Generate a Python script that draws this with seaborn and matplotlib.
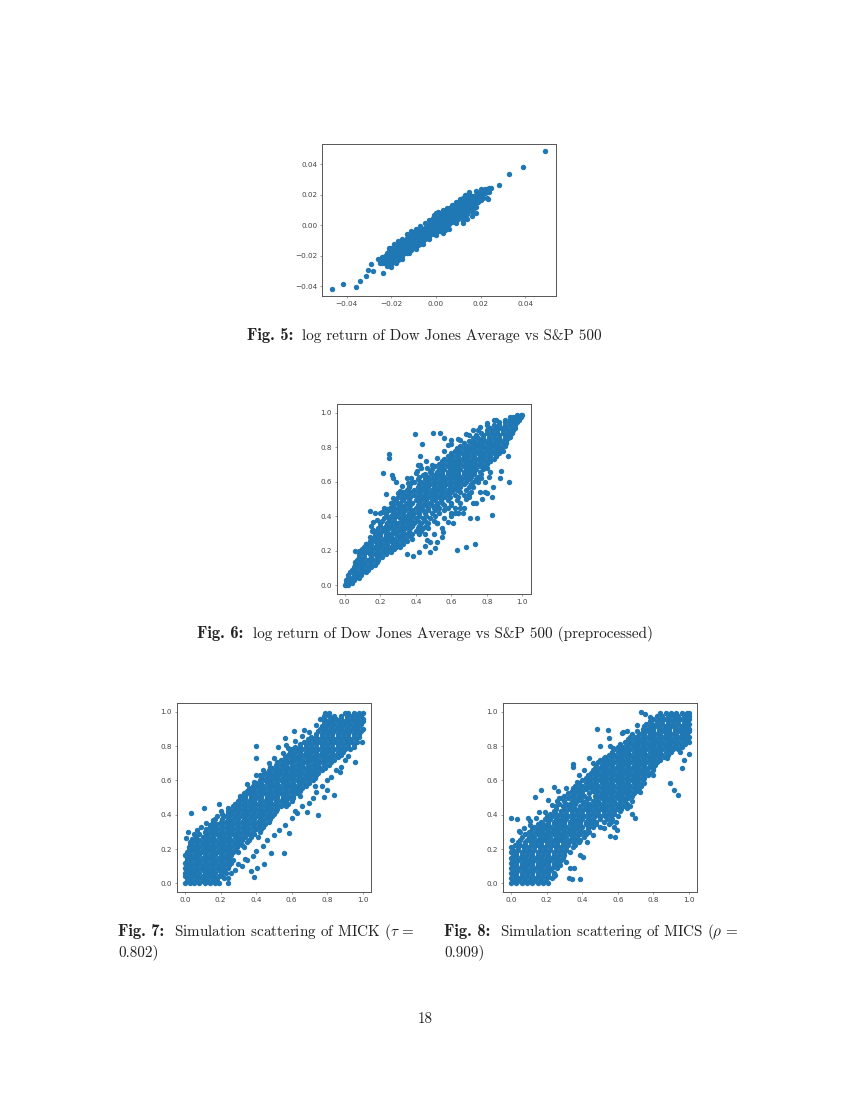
import matplotlib
matplotlib.use("Agg")
import matplotlib.pyplot as plt
import pandas as pd
import seaborn as sns

# ---------- Fig. 5 data, in thousandths of a log return ----------
f5_col_x = [-26, -24, -22, -20, -18, -16, -14, -12, -10, -8, -6, -4, -2, 0, 2, 4, 6, 8, 10, 12, 14, 16, 18, 20, 22, 24]
f5_col_y = [
    [-22], [-21, -23, -25], [-18, -20.5, -23, -25.5], [-15, -17.5, -20, -22.5, -25.5],
    [-13.5, -16, -18.5, -21, -23], [-12, -14.5, -17, -19.5], [-10.5, -13, -15.5, -18],
    [-7, -9.5, -12, -14.5, -17], [-4.5, -7, -9.5, -12, -14.5], [-3.5, -6, -8.5, -11, -13],
    [-2.5, -5, -7.5, -10], [-1.5, -4, -6.5, -8.5], [1, -1.5, -4, -6],
    [8, 5, 2.5, 0, -2.5, -4.5], [8, 5.5, 3, 0.5, -2, -4], [9, 6.5, 4, 1.5, -1, -3],
    [11, 8.5, 6, 3.5, 1], [13, 10.5, 8, 5.5, 3], [14, 11.5, 9, 6.5, 4],
    [18, 15.5, 13, 10.5, 8, 5], [20, 17.5, 15, 12.5, 10, 7.5], [19.5, 17, 14.5, 12, 9],
    [20, 17, 14.5], [22, 19, 16.5], [23.5, 21], [24.5, 22],
]
f5_col2_x = [-25, -23, -21, -19, -17, -15, -13, -11, -9, -7, -5, -3, -1, 1, 3, 5, 7, 9, 11, 13, 15, 17, 19, 21, 23]
f5_col2_y = [
    [-22, -24.5], [-20, -22.5, -25], [-17, -19.5, -22, -24.5, -26], [-14.5, -17, -19.5, -22, -24],
    [-13, -15.5, -18, -20.5, -22.5], [-11, -13.5, -16, -18.5, -20], [-8.5, -11, -13.5, -16, -18],
    [-6, -8.5, -11, -13.5, -16], [-4, -6.5, -9, -11.5, -14], [-3, -5.5, -8, -10.5, -12],
    [-2, -4.5, -7, -9], [0, -2.5, -5, -7.5], [3, 0.5, -2, -4.5, -6], [9, 6.5, 4, 1.5, -1, -3.5],
    [7, 4.5, 2, -0.5, -3], [10, 7.5, 5, 2.5, 0, -2], [12, 9.5, 7, 4.5, 2], [13.5, 11, 8.5, 6, 3.5],
    [16, 13.5, 11, 8.5, 6], [19, 16.5, 14, 11.5, 9, 6.5], [20.5, 18, 15.5, 13, 10], [19, 16.5, 14, 11],
    [20.5, 18, 15.5], [23, 20.5, 18], [24, 21.5, 18],
]
f5_out_x = [-46.4, -41.8, -35.8, -33.9, -31.5, -30.3, -29.3, -28.4, -23.9, 49, 38.8, 32.7, 28.4, 23.4, 24.5,
            -1.5, -1, -3, -5, -7, -9, -11, -13, -15, -17, -19, -21, 3, 5, 7, 9, 11, 13, 15, 18, 20,
            -22, -20, -18, -15, -12, -9, -6, -3, 0, 3, 6, 9, 12, 14, 16, 18, 12, 18]
f5_out_y = [-42, -38.3, -40.2, -36.5, -33.4, -29.5, -25.6, -30.2, -31.5, 48.5, 38.3, 33.7, 26.2, 17.5, 24.7,
            5, 7, 3.5, 1.5, -0.5, -2.5, -4, -6, -9, -10.5, -12, -15, 10, 11.5, 13, 15, 17.5, 20, 22, 22.5, 24,
            -27, -27.5, -25, -22, -18.5, -15.5, -12, -9, -6.5, -5, -2.5, 1.5, 2.5, 4, 6, 8, 1.7, 12]

# ---------- rows shared by the three unit-square figures, in hundredths ----------
rows_a = [0, 3, 6, 9, 12, 15, 18, 21, 24, 27, 30, 33, 36, 39, 42, 45, 48, 51, 54, 57, 60, 63, 66, 69, 72, 75, 78, 81,
          84, 87, 90, 93, 96, 99]
rows_b = [1.5, 4.5, 7.5, 10.5, 13.5, 16.5, 19.5, 22.5, 25.5, 28.5, 31.5, 34.5, 37.5, 40.5, 43.5, 46.5, 49.5, 52.5,
          55.5, 58.5, 61.5, 64.5, 67.5, 70.5, 73.5, 76.5, 79.5, 82.5, 85.5, 88.5, 91.5, 94.5, 97.5]

# ---------- Fig. 6 data, in hundredths ----------
f6_row_x = [
    [0, 1, 2], [1, 3, 5], [2, 5, 7, 9], [4, 6, 9, 11, 13], [6, 8, 11, 14, 17], [7, 10, 13, 16, 19],
    [8, 11, 14, 17, 20, 23], [10, 13, 16, 19, 22, 25, 28], [12, 15, 18, 21, 24, 27, 30, 33],
    [16, 19, 22, 25, 28, 31, 34, 38], [17, 20, 23, 26, 29, 32, 35, 38, 42, 45],
    [19, 22, 25, 28, 31, 34, 37, 41, 44, 47], [20, 24, 27, 30, 33, 36, 39, 43, 47, 52],
    [22, 25, 28, 31, 34, 37, 40, 44, 48, 56], [23, 27, 30, 33, 36, 39, 42, 45, 49, 53, 60, 64],
    [26, 30, 33, 36, 40, 43, 47, 50, 53, 58, 62, 67], [27, 31, 35, 38, 42, 45, 48, 52, 55, 60, 65, 72],
    [30, 34, 37, 41, 44, 47, 50, 53, 56, 59, 64, 70], [33, 37, 41, 45, 48, 51, 54, 57, 60, 65, 71, 76],
    [36, 41, 44, 47, 50, 53, 56, 59, 62, 65, 70], [39, 43, 47, 50, 53, 56, 59, 62, 65, 68, 72, 79],
    [42, 47, 50, 53, 56, 59, 62, 65, 68, 71, 75, 81], [48, 52, 55, 58, 61, 64, 67, 70, 73, 76, 82],
    [51, 55, 58, 61, 64, 67, 70, 73, 76, 79], [55, 58, 61, 64, 67, 70, 73, 76, 79, 82],
    [58, 61, 64, 67, 70, 73, 76, 79, 82, 85], [62, 65, 68, 71, 74, 77, 80, 83, 86, 89],
    [65, 69, 72, 75, 78, 81, 84, 87, 90], [70, 73, 76, 79, 82, 85, 88, 91],
    [74, 78, 81, 84, 87, 90, 93], [80, 83, 86, 89, 92, 95], [84, 87, 90, 93, 96],
    [90, 93, 96, 98], [97, 99, 100],
]
f6_row2_x = [
    [1, 2, 4], [2, 4, 6, 8], [3, 6, 8, 10, 12], [5, 7, 10, 13, 15], [6, 9, 12, 15, 18], [8, 11, 15, 18, 21],
    [9, 12, 15, 18, 21, 24, 26], [11, 14, 17, 20, 23, 26, 29, 31], [14, 17, 20, 23, 26, 29, 32, 35],
    [17, 20, 23, 26, 30, 33, 36], [18, 21, 24, 27, 30, 33, 36, 40, 43], [20, 23, 26, 29, 32, 35, 38, 42, 46],
    [21, 25, 28, 32, 35, 38, 41, 45, 50], [23, 26, 29, 32, 35, 38, 42, 46, 51],
    [25, 28, 31, 34, 38, 41, 44, 47, 51, 56], [27, 31, 34, 37, 41, 44, 46, 49, 52, 56, 60],
    [29, 33, 36, 40, 43, 46, 49, 51, 54, 58, 63], [32, 35, 39, 43, 46, 49, 52, 55, 58, 62, 67],
    [35, 39, 43, 46, 49, 52, 55, 58, 61, 63, 68], [37, 42, 45, 48, 51, 54, 57, 60, 63, 67, 71],
    [41, 45, 48, 51, 54, 57, 60, 63, 66, 70, 74], [45, 49, 52, 55, 58, 61, 64, 67, 70, 73, 77],
    [49, 53, 56, 59, 62, 65, 68, 71, 74, 78], [53, 56, 59, 62, 65, 68, 71, 74, 77, 80],
    [56, 60, 63, 66, 69, 72, 75, 78, 81, 84], [60, 63, 66, 69, 72, 75, 78, 81, 84, 87],
    [63, 67, 70, 73, 76, 79, 82, 85, 88], [67, 71, 74, 77, 80, 83, 86, 89, 91], [72, 75, 78, 81, 84, 87, 90, 92],
    [77, 80, 83, 86, 89, 92, 94], [82, 85, 88, 91, 94, 96], [87, 90, 93, 95, 97], [93, 95, 97, 99],
]
f6_out_x = [39.8, 49.9, 53.5, 55.9, 43.7, 25, 25, 42.4, 21.8, 26.5, 27, 23.3, 14.4, 16.1, 14.8, 15.6, 63, 68.3, 73.4,
            82.7, 92.7, 92.1, 87.8, 87.4, 82.7, 80, 77.3, 48, 50.8, 38.6, 35.3, 42, 41.1, 42.4, 40.5, 37.3, 44.3,
            46.2, 49.5, 28.9, 32.1, 35.8, 30.2, 27.4, 25.5, 20.8, 17.1, 66.8, 70.5, 74.3, 64, 61.2, 55.5, 51.8,
            46.2, 73.9, 79, 83.7, 58.3, 59.7, 64.9, 6, 8,
            30, 32, 28, 26, 34, 31, 36, 38, 35, 50, 55, 58, 60, 62, 55, 48, 45, 52, 65, 68, 70, 72, 75, 77, 80, 82,
            85, 88, 90, 93, 95, 22, 24, 20, 18, 16, 14, 12, 10, 40, 43, 46, 49, 52, 56, 60, 64, 68, 72, 76, 80, 84,
            70, 75, 80, 85]
f6_out_y = [87.5, 88.2, 88.6, 85.7, 82.2, 75.9, 74, 74.9, 65.4, 63.9, 62.4, 53.1, 43.4, 36.9, 34.4, 31.5, 20.5, 22,
            24.1, 40.7, 59.7, 75.1, 66.2, 62, 51.4, 53.7, 50, 19.1, 21.4, 17.2, 18.1, 19.1, 70, 70, 66.2, 62.5, 63.9,
            67.8, 69.3, 59.7, 57.7, 59.1, 53.3, 50.4, 44.6, 42.7, 41.7, 41.7, 38.8, 38.8, 41.7, 35.9, 31.1, 25.3,
            26.3, 47.5, 54.2, 57.1, 81.3, 84.2, 84.2, 20, 20,
            47, 50, 45, 48, 52, 55, 57, 60, 62, 30, 33, 37, 40, 42, 28, 25, 23, 36, 45, 50, 53, 57, 60, 62, 68, 72,
            75, 78, 82, 86, 90, 45, 44, 42, 38, 32, 28, 24, 20, 65, 68, 72, 70, 74, 78, 82, 85, 88, 90, 92, 94, 96,
            87, 90, 93, 96]

# ---------- Fig. 7 data, in hundredths ----------
f7_row_x = [
    [0, 3, 5, 8, 11, 14, 17, 19], [1, 3, 6, 9, 12, 15, 18, 22, 24], [0, 2, 5, 8, 11, 14, 17, 20, 23],
    [0, 3, 6, 9, 12, 15, 18, 21, 24], [0, 2, 5, 8, 11, 14, 17, 20, 23, 26], [1, 4, 7, 10, 13, 16, 19, 22, 25],
    [1, 3, 6, 9, 12, 15, 18, 21, 24, 27, 30], [2, 5, 8, 11, 14, 17, 20, 23, 26, 29, 33],
    [4, 7, 10, 13, 16, 19, 22, 25, 28, 31, 35], [6, 10, 13, 16, 19, 22, 25, 28, 31, 34, 37, 41],
    [11, 14, 17, 20, 23, 26, 29, 32, 35, 38, 42], [14, 17, 20, 23, 26, 29, 32, 35, 38, 41, 44],
    [16, 20, 23, 26, 29, 32, 35, 38, 41, 44, 47], [18, 22, 25, 28, 31, 34, 37, 40, 43, 46, 49],
    [24, 27, 30, 33, 36, 39, 42, 45, 48, 51], [27, 30, 33, 36, 39, 42, 45, 48, 51, 54, 57],
    [30, 33, 36, 39, 42, 45, 48, 51, 54, 57, 60], [31, 34, 37, 40, 43, 46, 49, 52, 55, 58, 61, 65],
    [35, 38, 41, 44, 47, 50, 53, 56, 59, 62, 65], [38, 41, 44, 47, 50, 53, 56, 59, 62, 65, 68, 73],
    [42, 45, 48, 51, 54, 57, 60, 63, 66, 69, 72], [44, 47, 50, 53, 56, 59, 62, 65, 68, 71, 74],
    [47, 50, 53, 56, 59, 62, 65, 68, 71, 74, 77], [51, 54, 57, 60, 63, 66, 69, 72, 75, 78, 81],
    [54, 57, 60, 63, 66, 69, 72, 75, 78, 81, 84], [58, 61, 64, 67, 70, 73, 76, 79, 82, 85, 88],
    [60, 63, 66, 69, 72, 75, 78, 81, 84, 87, 90, 93], [65, 68, 71, 74, 77, 80, 83, 86, 89, 92, 95],
    [69, 72, 75, 78, 81, 84, 87, 90, 93, 96], [74, 77, 80, 83, 86, 89, 92, 95, 98],
    [76, 79, 82, 85, 88, 91, 94, 97, 100], [78, 81, 84, 87, 90, 93, 96, 99],
    [78, 82, 85, 88, 91, 94, 97, 100], [79, 81, 90, 92, 95, 98, 100],
]
f7_row2_x = [
    [1, 4, 7, 10, 13, 16, 18], [0, 2, 4, 7, 10, 13, 16, 19, 21], [1, 4, 7, 10, 13, 16, 19, 22],
    [1, 4, 7, 10, 13, 16, 19, 22, 25], [1, 3, 6, 9, 12, 15, 18, 21, 24, 27], [0, 2, 5, 8, 11, 14, 17, 20, 23, 26],
    [2, 4, 7, 10, 13, 16, 19, 22, 25, 28], [3, 6, 9, 12, 15, 18, 21, 24, 27, 30, 32],
    [5, 8, 11, 14, 17, 20, 23, 26, 29, 32, 36], [8, 12, 15, 18, 21, 24, 27, 30, 33, 36, 39],
    [12, 15, 18, 21, 24, 27, 30, 33, 36, 40, 43], [15, 18, 21, 24, 27, 30, 33, 36, 39, 42, 45],
    [17, 21, 24, 27, 30, 33, 36, 39, 42, 45, 48], [21, 24, 26, 29, 32, 35, 38, 41, 44, 47, 50],
    [25, 28, 31, 34, 37, 40, 43, 46, 49, 52], [28, 31, 34, 37, 40, 43, 46, 49, 52, 55, 58],
    [31, 34, 37, 40, 43, 46, 49, 52, 55, 58, 61], [33, 36, 39, 42, 45, 48, 51, 54, 57, 60, 63],
    [36, 39, 42, 45, 48, 51, 54, 57, 60, 63, 66], [40, 43, 46, 49, 52, 55, 58, 61, 64, 67, 70],
    [43, 46, 49, 52, 55, 58, 61, 64, 67, 70, 73], [45, 48, 51, 54, 57, 60, 63, 66, 69, 72, 75],
    [49, 52, 55, 58, 61, 64, 67, 70, 73, 76, 79], [52, 55, 58, 61, 64, 67, 70, 73, 76, 79, 82],
    [56, 59, 62, 65, 68, 71, 74, 77, 80, 83, 86], [59, 62, 65, 68, 71, 74, 77, 80, 83, 86, 89],
    [62, 65, 68, 71, 74, 77, 80, 83, 86, 89, 92, 95], [67, 70, 73, 76, 79, 82, 85, 88, 91, 94, 97],
    [71, 74, 77, 80, 83, 86, 89, 92, 95, 98], [75, 78, 81, 84, 87, 90, 93, 96, 99],
    [77, 80, 83, 86, 89, 92, 95, 98], [78, 80, 83, 86, 89, 92, 95, 98, 100], [78, 81, 84, 88, 91, 94, 97, 99],
]
f7_out_x = [3.4, 10.9, 1.5, 0.4, 19.2, 39.7, 39.7, 39.7, 57, 52.3, 61.1, 66.7, 56.4, 47.9, 34.8, 74.8, 68.6, 62, 78,
            58.3, 55.8, 48.5, 44.2, 40.4, 37.2, 39.1, 24, 32, 34.8, 87.4, 95.9, 99.6, 80, 83.6,
            5, 7, 9, 12, 14, 16, 4, 3, 92, 90, 88, 85, 82, 80, 77, 74, 72, 70, 66, 63, 60, 56, 53, 50, 46, 44, 40,
            38, 34, 30, 28, 26, 20, 24, 28, 32, 34, 36, 39, 42, 44, 47, 50, 55, 58, 62, 66, 70, 74, 76]
f7_out_y = [41.2, 43.9, 29.7, 26.2, 46.2, 80, 73.2, 63.1, 80.6, 79.2, 88.7, 89.1, 84.9, 68, 57.7, 39.8, 41.7, 42.1,
            50.5, 29.5, 17.7, 17.7, 11.3, 8.7, 7.4, 3.5, 0.4, 10.3, 13.6, 65, 70.9, 82.5, 54.4, 51.5,
            29, 31, 33, 35, 34, 37, 26, 24, 74, 72, 68, 66, 62, 60, 57, 53, 50, 47, 45, 41, 38, 34, 31, 28, 25, 22,
            19, 16, 14, 11, 8, 6, 42, 44, 46, 49, 52, 55, 59, 63, 66, 70, 73, 76, 79, 83, 86, 88, 92, 96]

# ---------- Fig. 8 data, in hundredths ----------
f8_row_x = [
    [0, 3, 6, 9, 12, 15, 18, 21], [0, 2, 5, 8, 11, 14, 17, 20, 23], [0, 3, 6, 9, 12, 15, 18, 21, 24],
    [0, 2, 5, 8, 11, 14, 17, 20, 23, 26], [0, 3, 6, 9, 12, 15, 18, 21, 24, 27],
    [0, 2, 5, 8, 11, 14, 17, 20, 23, 26, 29], [0, 3, 6, 9, 12, 15, 18, 21, 24, 27, 30, 33],
    [0, 4, 7, 10, 13, 16, 19, 22, 25, 28, 31, 35], [4, 8, 11, 14, 17, 20, 23, 26, 29, 32, 35, 38],
    [6, 10, 13, 16, 19, 22, 25, 28, 31, 34, 37, 41], [10, 14, 17, 20, 23, 26, 29, 32, 35, 38, 41, 44],
    [13, 16, 19, 22, 25, 28, 31, 34, 37, 40, 43, 46, 50, 58],
    [17, 21, 24, 27, 30, 33, 36, 39, 42, 45, 48, 52, 56, 59],
    [20, 23, 26, 29, 32, 35, 38, 41, 44, 47, 50, 53, 56, 60],
    [24, 28, 31, 34, 37, 40, 43, 46, 49, 52, 55, 58, 61],
    [25, 29, 32, 35, 39, 42, 45, 48, 51, 54, 57, 60, 63, 67],
    [26, 30, 34, 37, 40, 46, 49, 52, 55, 58, 61, 64, 68], [30, 34, 38, 41, 47, 50, 53, 56, 59, 62, 65, 68],
    [34, 37, 40, 46, 49, 52, 55, 58, 61, 64, 67, 70], [36, 40, 43, 46, 49, 52, 55, 58, 61, 64, 67, 70, 73],
    [40, 44, 47, 50, 53, 56, 59, 62, 65, 68, 71, 74], [43, 47, 50, 53, 56, 59, 62, 65, 68, 71, 74, 77],
    [46, 49, 52, 55, 58, 61, 64, 67, 70, 73, 76, 80], [48, 51, 54, 57, 60, 63, 66, 69, 72, 75, 78, 81],
    [50, 54, 57, 60, 63, 66, 69, 72, 75, 78, 81, 84], [55, 58, 61, 64, 67, 70, 73, 76, 79, 82, 85, 88],
    [58, 61, 64, 67, 70, 73, 76, 79, 82, 85, 88, 91, 94], [61, 65, 68, 71, 74, 77, 80, 83, 86, 89, 92, 95, 98],
    [66, 69, 72, 75, 78, 81, 84, 87, 90, 93, 96, 99], [68, 72, 75, 78, 81, 84, 87, 90, 93, 96, 99],
    [74, 77, 80, 83, 86, 89, 92, 95, 98, 100], [76, 79, 82, 85, 88, 91, 94, 97, 100],
    [80, 83, 86, 89, 92, 95, 98, 100], [84, 87, 90, 93, 96, 99, 100],
]
f8_row2_x = [
    [1, 4, 7, 10, 13, 16, 19], [1, 3, 6, 9, 12, 15, 18, 21, 24], [1, 4, 7, 10, 13, 16, 19, 22],
    [1, 3, 6, 9, 12, 15, 18, 21, 24, 27], [1, 4, 7, 10, 13, 16, 19, 22, 25, 28],
    [1, 3, 6, 9, 12, 15, 18, 21, 24, 27, 30], [1, 4, 7, 10, 13, 16, 19, 22, 25, 28, 31],
    [2, 5, 8, 11, 14, 17, 20, 23, 26, 29, 32, 36], [5, 9, 12, 15, 18, 21, 24, 27, 30, 33, 36, 39],
    [8, 12, 15, 18, 21, 24, 27, 30, 33, 36, 39, 42], [12, 15, 18, 21, 24, 27, 30, 33, 36, 39, 43],
    [15, 18, 21, 24, 27, 30, 33, 36, 39, 42, 45, 48, 55], [19, 22, 25, 28, 31, 34, 37, 40, 43, 46, 50, 54, 57],
    [22, 25, 28, 31, 34, 37, 40, 43, 46, 49, 52, 55, 58], [25, 30, 33, 36, 38, 41, 44, 47, 50, 53, 56, 59, 62],
    [27, 31, 33, 36, 41, 44, 47, 50, 53, 56, 59, 62, 65], [28, 32, 36, 39, 43, 48, 51, 54, 57, 60, 63, 66],
    [32, 36, 39, 44, 48, 51, 54, 57, 60, 63, 66, 69], [35, 38, 42, 45, 48, 51, 54, 57, 60, 63, 66, 69, 72],
    [38, 42, 45, 48, 51, 54, 57, 60, 63, 66, 69, 72, 75], [42, 45, 48, 51, 54, 57, 60, 63, 66, 69, 72, 75],
    [45, 48, 51, 54, 57, 60, 63, 66, 69, 72, 75, 78], [47, 50, 53, 56, 59, 62, 65, 68, 71, 74, 77, 80],
    [49, 52, 55, 58, 61, 64, 67, 70, 73, 76, 79, 82], [53, 56, 59, 62, 65, 68, 71, 74, 77, 80, 83, 86],
    [57, 60, 63, 66, 69, 72, 75, 78, 81, 84, 87, 90], [60, 63, 66, 69, 72, 75, 78, 81, 84, 87, 90, 93, 96],
    [64, 67, 70, 73, 76, 79, 82, 85, 88, 91, 94, 97, 100], [67, 70, 74, 77, 80, 83, 86, 89, 92, 95, 98, 100],
    [71, 74, 77, 80, 83, 86, 89, 92, 95, 98, 100], [75, 78, 81, 84, 87, 90, 93, 96, 99],
    [78, 82, 85, 88, 91, 94, 97, 99], [82, 85, 88, 91, 94, 97, 100],
]
f8_out_x = [0, 3.4, 9.6, 10.5, 0.6, 4.3, 13.7, 17.1, 20.9, 24.1, 26.5, 15.8, 35, 35, 38.3, 43.6, 48.1, 54.3, 55.1, 50,
            55.6, 32.7, 34, 38.7, 35.5, 40.6, 59.8, 55.6, 58.5, 67.9, 69.7, 89.1, 91.4, 93.6, 95.9, 99.8, 97.4, 72.9,
            75.4, 65, 62.2,
            19, 23, 27, 31, 37, 41, 46, 52, 57.5, 63, 71, 78, 7, 10.5, 5, 14, 33, 31, 38.7, 42.5, 46, 52, 65, 72.5,
            80, 87.6, 95, 24.6, 27.4, 42, 44, 42, 44, 40]
f8_out_y = [37.9, 37.5, 37.9, 36.3, 25.2, 30.5, 50.5, 54.4, 48.3, 55.9, 54, 41.7, 69.5, 68, 63.1, 73.2, 89.9, 89.5,
            84.9, 80, 80, 2.9, 2.5, 2.7, 9.1, 15.5, 31.1, 27.6, 27.2, 40.4, 37.9, 58.3, 54.6, 51.5, 67, 75.1, 71.8,
            100, 98.4, 88.9, 87.4,
            41.7, 45.6, 49.5, 55.3, 59, 66, 70, 73, 78.6, 88.3, 92, 97, 32, 34, 30, 38, 8.7, 12.6, 16.5, 24.3, 28,
            32, 43.7, 53.4, 63, 72.8, 76.7, 5, 10.7, 48, 50, 55, 56, 52]

x_ticks_5 = [-0.04, -0.02, 0.00, 0.02, 0.04]
unit_ticks = [0.0, 0.2, 0.4, 0.6, 0.8, 1.0]
captions = {
    "Fig. 5:": "log return of Dow Jones Average vs S&P 500",
    "Fig. 6:": "log return of Dow Jones Average vs S&P 500 (preprocessed)",
    "Fig. 7:": r"Simulation scattering of MICK ($\tau$ =",
    "Fig. 8:": r"Simulation scattering of MICS ($\rho$ =",
}
wrapped = ["0.802)", "0.909)"]
page_number = "18"

BLUE = "#1f77b4"
W, H = 850, 1100

sns.set_theme(style="white")
plt.rcParams["font.family"] = ["DejaVu Sans"]
plt.rcParams["mathtext.fontset"] = "cm"

fig = plt.figure(figsize=(W / 100, H / 100), dpi=100, facecolor="white")


def flatten(groups, scale, flip):
    """groups: (shared coordinates, lists of the other coordinate), plus free pairs last."""
    a, b = [], []
    for cols, lists in groups[:-1]:
        for c, vals in zip(cols, lists):
            for v in vals:
                a.append(c)
                b.append(v)
    if flip:
        a, b = b, a
    outx, outy = groups[-1]
    return pd.DataFrame({"x": [v / scale for v in a + outx], "y": [v / scale for v in b + outy]})


def panel(box, df, xlim, ylim, xticks, yticks, fmt):
    l, t, r, b = box
    ax = fig.add_axes([l / W, 1 - b / H, (r - l) / W, (b - t) / H])
    sns.scatterplot(data=df, x="x", y="y", ax=ax, color=BLUE, s=15, linewidth=0, legend=False)
    ax.set_xlim(*xlim)
    ax.set_ylim(*ylim)
    ax.set_xticks(xticks)
    ax.set_yticks(yticks)
    ax.set_xticklabels([fmt.format(v).replace("-", "\u2212") for v in xticks])
    ax.set_yticklabels([fmt.format(v).replace("-", "\u2212") for v in yticks])
    ax.set_xlabel("")
    ax.set_ylabel("")
    ax.tick_params(axis="both", length=1.6, width=0.4, labelsize=5.2, pad=1.8, color="#555555", labelcolor="#444444",
                   bottom=True, left=True)
    for s in ax.spines.values():
        s.set_linewidth(0.7)
        s.set_color("#555555")
    return ax


panel((322.3, 144.3, 556, 296.3),
      flatten([(f5_col_x, f5_col_y), (f5_col2_x, f5_col2_y), (f5_out_x, f5_out_y)], 1000, False),
      (-0.0509, 0.0538), (-0.0466, 0.0531), x_ticks_5, x_ticks_5, "{:.2f}")
panel((336.7, 404.3, 530.7, 594),
      flatten([(rows_a, f6_row_x), (rows_b, f6_row2_x), (f6_out_x, f6_out_y)], 100, True),
      (-0.045, 1.047), (-0.05, 1.05), unit_ticks, unit_ticks, "{:.1f}")
panel((176.7, 703.3, 371, 892.3),
      flatten([(rows_a, f7_row_x), (rows_b, f7_row2_x), (f7_out_x, f7_out_y)], 100, True),
      (-0.047, 1.047), (-0.052, 1.049), unit_ticks, unit_ticks, "{:.1f}")
panel((502.7, 703.3, 697.3, 892.3),
      flatten([(rows_a, f8_row_x), (rows_b, f8_row2_x), (f8_out_x, f8_out_y)], 100, True),
      (-0.047, 1.047), (-0.052, 1.049), unit_ticks, unit_ticks, "{:.1f}")


def put(x, y, s, bold=False, ha="left"):
    fig.text(x / W, 1 - y / H, s, family="cmb10" if bold else "cmr10", fontsize=11.9 if bold else 10.9, ha=ha,
             va="baseline", color="#222222")


caption_pos = {"Fig. 5:": (247, 302, 340), "Fig. 6:": (197, 253, 638), "Fig. 7:": (118, 174, 936), "Fig. 8:": (444, 500, 936)}
for key, text in captions.items():
    xb, xr, yb = caption_pos[key]
    put(xb, yb, key, bold=True)
    put(xr, yb, text)
put(118, 956, wrapped[0])
put(444, 956, wrapped[1])
put(425, 1023, page_number, ha="center")

fig.savefig("out.png", dpi=100, facecolor="white")
